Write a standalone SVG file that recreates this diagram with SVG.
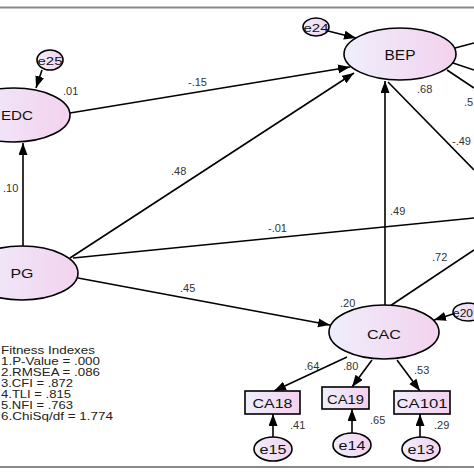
<svg xmlns="http://www.w3.org/2000/svg" width="474" height="474" viewBox="0 0 474 474">
<defs>
<linearGradient id="g" x1="0" y1="0" x2="1" y2="0">
<stop offset="0" stop-color="#efeefc"/>
<stop offset="1" stop-color="#f3d2ee"/>
</linearGradient>
<marker id="ah" markerUnits="userSpaceOnUse" markerWidth="13" markerHeight="10" refX="12" refY="4.5" orient="auto">
<path d="M0,0 L12,4.5 L0,9 z" fill="#000"/>
</marker>
</defs>
<style>
.n{fill:url(#g);stroke:#000;stroke-width:1.6}
.t{font-family:"Liberation Sans",Arial,sans-serif;fill:#111;text-anchor:middle}
.l{font-family:"Liberation Sans",Arial,sans-serif;font-size:11px;fill:#333}
.c line{stroke:#000;stroke-width:1.6}
.a{marker-end:url(#ah)}
.fi{font-family:"Liberation Sans",Arial,sans-serif;font-size:11px;fill:#222}
</style>
<rect width="474" height="474" fill="#fff"/>
<line x1="0" y1="7.5" x2="474" y2="7.5" stroke="#888" stroke-width="1.8"/>
<line x1="0" y1="467" x2="474" y2="467" stroke="#888" stroke-width="1.8"/>

<g class="c" id="connectors">
<line class="a" x1="42" y1="70" x2="36" y2="88"/>
<line class="a" x1="23" y1="247" x2="23" y2="143"/>
<line class="a" x1="70" y1="113" x2="350" y2="67"/>
<line class="a" x1="70" y1="258" x2="354" y2="73"/>
<line x1="73" y1="258" x2="474" y2="218"/>
<line class="a" x1="78" y1="278" x2="330" y2="325"/>
<line class="a" x1="385" y1="305" x2="385" y2="81"/>
<line class="a" x1="328" y1="31" x2="356" y2="38"/>
<line x1="455" y1="48" x2="474" y2="43"/>
<line x1="453" y1="63" x2="474" y2="70"/>
<line x1="447" y1="70" x2="474" y2="88"/>
<line x1="388" y1="82" x2="474" y2="170"/>
<line x1="390" y1="306" x2="474" y2="250"/>
<line class="a" x1="453" y1="314" x2="434" y2="320"/>
<line class="a" x1="347" y1="357" x2="274" y2="391"/>
<line class="a" x1="372" y1="360" x2="352" y2="387"/>
<line class="a" x1="397" y1="360" x2="420" y2="391"/>
<line class="a" x1="273" y1="437" x2="273" y2="414"/>
<line class="a" x1="352" y1="433" x2="352" y2="409"/>
<line class="a" x1="420" y1="437" x2="420" y2="414"/>
</g>

<g id="EDC"><ellipse class="n" cx="14" cy="115" rx="56" ry="27"/><text class="t" x="17" y="120" font-size="13" textLength="32" lengthAdjust="spacingAndGlyphs">EDC</text></g>
<g id="e25"><ellipse class="n" cx="50" cy="60" rx="13" ry="10"/><text class="t" x="50" y="64.5" font-size="11.5" textLength="25" lengthAdjust="spacingAndGlyphs">e25</text></g>
<g id="PG"><ellipse class="n" cx="22" cy="273" rx="56" ry="27"/><text class="t" x="22" y="278" font-size="13" textLength="23" lengthAdjust="spacingAndGlyphs">PG</text></g>
<g id="BEP"><ellipse class="n" cx="400" cy="54" rx="56" ry="26"/><text class="t" x="400" y="60" font-size="14" textLength="31" lengthAdjust="spacingAndGlyphs">BEP</text></g>
<g id="e24"><ellipse class="n" cx="316" cy="27" rx="13" ry="9"/><text class="t" x="316" y="31.5" font-size="11.5" textLength="25" lengthAdjust="spacingAndGlyphs">e24</text></g>
<g id="CAC"><ellipse class="n" cx="384" cy="332" rx="55" ry="27"/><text class="t" x="384" y="339" font-size="13.5" textLength="34" lengthAdjust="spacingAndGlyphs">CAC</text></g>
<g id="e20"><ellipse class="n" cx="468" cy="312" rx="15" ry="9"/><text class="t" x="463" y="316.5" font-size="11" textLength="20" lengthAdjust="spacingAndGlyphs">e20</text></g>
<g id="CA18"><rect class="n" x="245" y="391" width="55" height="23"/><text class="t" x="272.5" y="408" font-size="13" textLength="40" lengthAdjust="spacingAndGlyphs">CA18</text></g>
<g id="CA19"><rect class="n" x="322" y="387" width="47" height="22"/><text class="t" x="345.5" y="403.5" font-size="13" textLength="37" lengthAdjust="spacingAndGlyphs">CA19</text></g>
<g id="CA101"><rect class="n" x="394" y="391" width="56" height="23"/><text class="t" x="422" y="408" font-size="13" textLength="51" lengthAdjust="spacingAndGlyphs">CA101</text></g>
<g id="e15"><ellipse class="n" cx="273" cy="449" rx="19" ry="12"/><text class="t" x="273" y="454" font-size="12.5" textLength="27" lengthAdjust="spacingAndGlyphs">e15</text></g>
<g id="e14"><ellipse class="n" cx="352" cy="445" rx="19" ry="12"/><text class="t" x="352" y="450" font-size="12.5" textLength="27" lengthAdjust="spacingAndGlyphs">e14</text></g>
<g id="e13"><ellipse class="n" cx="421" cy="449" rx="19" ry="12"/><text class="t" x="421" y="454" font-size="12.5" textLength="27" lengthAdjust="spacingAndGlyphs">e13</text></g>

<g id="labels">
<text class="l" x="63" y="95">.01</text>
<text class="l" x="188" y="86">-.15</text>
<text class="l" x="3" y="192">.10</text>
<text class="l" x="171" y="175">.48</text>
<text class="l" x="268" y="232">-.01</text>
<text class="l" x="180" y="292">.45</text>
<text class="l" x="390" y="215">.49</text>
<text class="l" x="432" y="261">.72</text>
<text class="l" x="340" y="307">.20</text>
<text class="l" x="417" y="93">.68</text>
<text class="l" x="464" y="106">.5</text>
<text class="l" x="452" y="145">-.49</text>
<text class="l" x="304" y="370">.64</text>
<text class="l" x="343" y="370">.80</text>
<text class="l" x="414" y="374">.53</text>
<text class="l" x="290" y="429">.41</text>
<text class="l" x="370" y="424">.65</text>
<text class="l" x="434" y="429">.29</text>
</g>

<g id="fitness">
<text class="fi" x="1" y="354" textLength="94" lengthAdjust="spacingAndGlyphs">Fitness Indexes</text>
<text class="fi" x="1" y="365" textLength="99" lengthAdjust="spacingAndGlyphs">1.P-Value = .000</text>
<text class="fi" x="1" y="376" textLength="99" lengthAdjust="spacingAndGlyphs">2.RMSEA = .086</text>
<text class="fi" x="1" y="387" textLength="72" lengthAdjust="spacingAndGlyphs">3.CFI = .872</text>
<text class="fi" x="1" y="398" textLength="70" lengthAdjust="spacingAndGlyphs">4.TLI = .815</text>
<text class="fi" x="1" y="409" textLength="72" lengthAdjust="spacingAndGlyphs">5.NFI = .763</text>
<text class="fi" x="1" y="420" textLength="112" lengthAdjust="spacingAndGlyphs">6.ChiSq/df = 1.774</text>
</g>
</svg>
